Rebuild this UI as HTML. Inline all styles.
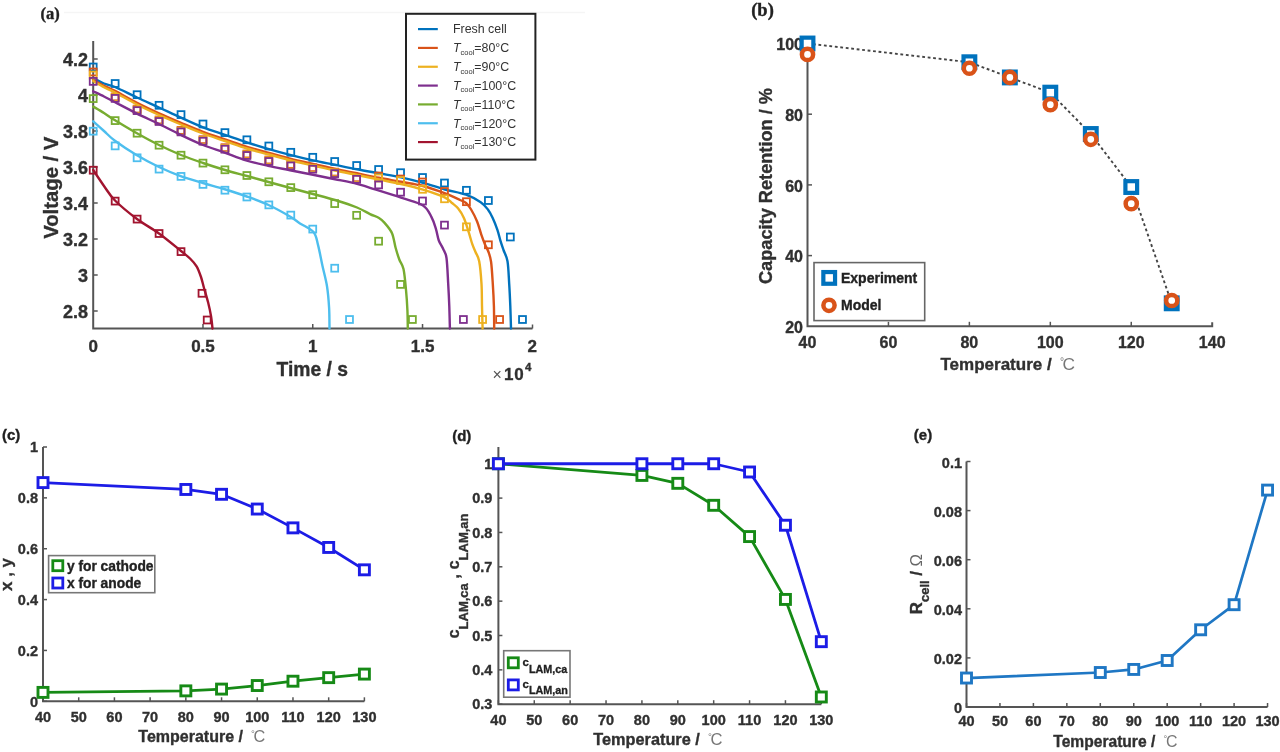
<!DOCTYPE html><html><head><meta charset="utf-8"><style>html,body{margin:0;padding:0;background:#fff;width:1280px;height:752px;overflow:hidden}svg{display:block;filter:blur(0.45px)}</style></head><body>
<svg width="1280" height="752" viewBox="0 0 1280 752">
<rect width="1280" height="752" fill="#fff"/>
<line x1="64" y1="12.5" x2="585" y2="12.5" stroke="#f5f5f5" stroke-width="1.5"/>
<g>
<path d="M93.2,41 L93.2,328.5 L532.5,328.5" fill="none" stroke="#555555" stroke-width="2"/>
<path d="M532.5,328.5 L532.5,324.5" stroke="#555555" stroke-width="1.5"/>
<line x1="93.2" y1="311" x2="97.7" y2="311" stroke="#555555" stroke-width="1.5"/>
<text x="88" y="318.3" font-size="18" text-anchor="end" font-weight="bold" fill="#303030" font-family='"Liberation Sans", sans-serif'  stroke="#303030" stroke-width="0.35">2.8</text>
<line x1="93.2" y1="275" x2="97.7" y2="275" stroke="#555555" stroke-width="1.5"/>
<text x="88" y="282.3" font-size="18" text-anchor="end" font-weight="bold" fill="#303030" font-family='"Liberation Sans", sans-serif'  stroke="#303030" stroke-width="0.35">3</text>
<line x1="93.2" y1="239" x2="97.7" y2="239" stroke="#555555" stroke-width="1.5"/>
<text x="88" y="246.3" font-size="18" text-anchor="end" font-weight="bold" fill="#303030" font-family='"Liberation Sans", sans-serif'  stroke="#303030" stroke-width="0.35">3.2</text>
<line x1="93.2" y1="203" x2="97.7" y2="203" stroke="#555555" stroke-width="1.5"/>
<text x="88" y="210.3" font-size="18" text-anchor="end" font-weight="bold" fill="#303030" font-family='"Liberation Sans", sans-serif'  stroke="#303030" stroke-width="0.35">3.4</text>
<line x1="93.2" y1="167" x2="97.7" y2="167" stroke="#555555" stroke-width="1.5"/>
<text x="88" y="174.3" font-size="18" text-anchor="end" font-weight="bold" fill="#303030" font-family='"Liberation Sans", sans-serif'  stroke="#303030" stroke-width="0.35">3.6</text>
<line x1="93.2" y1="131" x2="97.7" y2="131" stroke="#555555" stroke-width="1.5"/>
<text x="88" y="138.3" font-size="18" text-anchor="end" font-weight="bold" fill="#303030" font-family='"Liberation Sans", sans-serif'  stroke="#303030" stroke-width="0.35">3.8</text>
<line x1="93.2" y1="95" x2="97.7" y2="95" stroke="#555555" stroke-width="1.5"/>
<text x="88" y="102.3" font-size="18" text-anchor="end" font-weight="bold" fill="#303030" font-family='"Liberation Sans", sans-serif'  stroke="#303030" stroke-width="0.35">4</text>
<line x1="93.2" y1="59" x2="97.7" y2="59" stroke="#555555" stroke-width="1.5"/>
<text x="88" y="66.3" font-size="18" text-anchor="end" font-weight="bold" fill="#303030" font-family='"Liberation Sans", sans-serif'  stroke="#303030" stroke-width="0.35">4.2</text>
<line x1="202.98" y1="328.5" x2="202.98" y2="324" stroke="#555555" stroke-width="1.5"/>
<line x1="312.75" y1="328.5" x2="312.75" y2="324" stroke="#555555" stroke-width="1.5"/>
<line x1="422.53" y1="328.5" x2="422.53" y2="324" stroke="#555555" stroke-width="1.5"/>
<text x="93.2" y="351.5" font-size="17" text-anchor="middle" font-weight="bold" fill="#303030" font-family='"Liberation Sans", sans-serif'  stroke="#303030" stroke-width="0.35">0</text>
<text x="202.98" y="351.5" font-size="17" text-anchor="middle" font-weight="bold" fill="#303030" font-family='"Liberation Sans", sans-serif'  stroke="#303030" stroke-width="0.35">0.5</text>
<text x="312.75" y="351.5" font-size="17" text-anchor="middle" font-weight="bold" fill="#303030" font-family='"Liberation Sans", sans-serif'  stroke="#303030" stroke-width="0.35">1</text>
<text x="422.53" y="351.5" font-size="17" text-anchor="middle" font-weight="bold" fill="#303030" font-family='"Liberation Sans", sans-serif'  stroke="#303030" stroke-width="0.35">1.5</text>
<text x="532.3" y="351.5" font-size="17" text-anchor="middle" font-weight="bold" fill="#303030" font-family='"Liberation Sans", sans-serif'  stroke="#303030" stroke-width="0.35">2</text>
<text x="492.5" y="379.5" font-size="16" text-anchor="start" font-weight="normal" fill="#555" font-family='"Liberation Sans", sans-serif' >&#215;</text>
<text x="504" y="379.5" font-size="17" text-anchor="start" font-weight="bold" fill="#303030" font-family='"Liberation Sans", sans-serif' letter-spacing="0.8" stroke="#303030" stroke-width="0.35">10</text>
<text x="525" y="370.5" font-size="11.5" text-anchor="start" font-weight="bold" fill="#303030" font-family='"Liberation Sans", sans-serif'  stroke="#303030" stroke-width="0.35">4</text>
<text x="312.2" y="376" font-size="19.3" text-anchor="middle" font-weight="bold" fill="#303030" font-family='"Liberation Sans", sans-serif'  stroke="#303030" stroke-width="0.35">Time / s</text>
<text transform="translate(58,187.7) rotate(-90)" x="0" y="0" font-size="20.3" text-anchor="middle" font-weight="bold" fill="#303030" stroke="#303030" stroke-width="0.35" font-family='"Liberation Sans", sans-serif'>Voltage / V</text>
<text x="40.5" y="18.5" font-size="16.5" text-anchor="start" font-weight="bold" fill="#222" font-family='"Liberation Serif", serif'  stroke="#222" stroke-width="0.35">(a)</text>
<path d="M93.2,78 C95,78.92 100.37,82 104,83.5 C107.63,85 109.5,84.67 115,87 C120.5,89.33 129.67,94.08 137,97.5 C144.33,100.92 151.67,104.14 159,107.5 C166.33,110.86 173.67,114.36 181,117.66 C188.33,120.96 195.67,124.44 203,127.3 C210.33,130.16 217.67,132.3 225,134.8 C232.33,137.3 239.83,139.97 247,142.3 C254.17,144.63 260.83,146.72 268,148.8 C275.17,150.88 282.5,152.88 290,154.8 C297.5,156.72 305.5,158.63 313,160.3 C320.5,161.97 327.67,163.3 335,164.8 C342.33,166.3 349.67,167.88 357,169.3 C364.33,170.72 371.67,171.97 379,173.3 C386.33,174.63 393.67,175.72 401,177.3 C408.33,178.88 415.67,180.77 423,182.8 C430.33,184.83 437.83,187.51 445,189.5 C452.17,191.49 460.05,192.61 466,194.74 C471.95,196.87 477.05,199.84 480.7,202.3 C484.35,204.76 485.9,206.9 487.9,209.5 C489.9,212.1 491.12,214.52 492.7,217.9 C494.28,221.28 496.12,226.02 497.4,229.8 C498.68,233.58 499.38,237.23 500.4,240.6 C501.42,243.97 502.32,246.55 503.5,250 C504.68,253.45 506.55,255.65 507.5,261.3 C508.45,266.95 508.73,276.45 509.2,283.9 C509.67,291.35 510,298.57 510.3,306 C510.6,313.43 510.88,324.75 511,328.5" fill="none" stroke="#0072BD" stroke-width="2.4" stroke-linejoin="round" stroke-linecap="round"/>
<rect x="89.75" y="63.55" width="6.9" height="6.9" fill="none" stroke="#0072BD" stroke-width="1.8"/>
<rect x="111.7" y="80.05" width="6.9" height="6.9" fill="none" stroke="#0072BD" stroke-width="1.8"/>
<rect x="133.66" y="91.25" width="6.9" height="6.9" fill="none" stroke="#0072BD" stroke-width="1.8"/>
<rect x="155.62" y="101.85" width="6.9" height="6.9" fill="none" stroke="#0072BD" stroke-width="1.8"/>
<rect x="177.57" y="111.15" width="6.9" height="6.9" fill="none" stroke="#0072BD" stroke-width="1.8"/>
<rect x="199.53" y="120.55" width="6.9" height="6.9" fill="none" stroke="#0072BD" stroke-width="1.8"/>
<rect x="221.48" y="129.15" width="6.9" height="6.9" fill="none" stroke="#0072BD" stroke-width="1.8"/>
<rect x="243.44" y="136.35" width="6.9" height="6.9" fill="none" stroke="#0072BD" stroke-width="1.8"/>
<rect x="265.39" y="142.55" width="6.9" height="6.9" fill="none" stroke="#0072BD" stroke-width="1.8"/>
<rect x="287.34" y="148.85" width="6.9" height="6.9" fill="none" stroke="#0072BD" stroke-width="1.8"/>
<rect x="309.3" y="153.85" width="6.9" height="6.9" fill="none" stroke="#0072BD" stroke-width="1.8"/>
<rect x="331.25" y="158.05" width="6.9" height="6.9" fill="none" stroke="#0072BD" stroke-width="1.8"/>
<rect x="353.21" y="162.05" width="6.9" height="6.9" fill="none" stroke="#0072BD" stroke-width="1.8"/>
<rect x="375.16" y="166.05" width="6.9" height="6.9" fill="none" stroke="#0072BD" stroke-width="1.8"/>
<rect x="397.12" y="169.25" width="6.9" height="6.9" fill="none" stroke="#0072BD" stroke-width="1.8"/>
<rect x="419.07" y="174.05" width="6.9" height="6.9" fill="none" stroke="#0072BD" stroke-width="1.8"/>
<rect x="441.03" y="179.55" width="6.9" height="6.9" fill="none" stroke="#0072BD" stroke-width="1.8"/>
<rect x="462.98" y="186.85" width="6.9" height="6.9" fill="none" stroke="#0072BD" stroke-width="1.8"/>
<rect x="484.94" y="197.05" width="6.9" height="6.9" fill="none" stroke="#0072BD" stroke-width="1.8"/>
<rect x="506.89" y="233.55" width="6.9" height="6.9" fill="none" stroke="#0072BD" stroke-width="1.8"/>
<rect x="519.05" y="316.05" width="6.9" height="6.9" fill="none" stroke="#0072BD" stroke-width="1.8"/>
<path d="M93.2,80 C95,80.96 100.37,83.92 104,85.74 C107.63,87.56 109.5,88.06 115,90.9 C120.5,93.74 129.67,99.07 137,102.8 C144.33,106.53 151.67,109.97 159,113.3 C166.33,116.63 173.67,119.72 181,122.8 C188.33,125.88 195.67,129.05 203,131.8 C210.33,134.55 217.67,136.8 225,139.3 C232.33,141.8 239.67,144.55 247,146.8 C254.33,149.05 261.67,150.8 269,152.8 C276.33,154.8 283.67,156.97 291,158.8 C298.33,160.63 305.67,162.13 313,163.8 C320.33,165.47 327.67,167.22 335,168.8 C342.33,170.38 349.67,171.8 357,173.3 C364.33,174.8 371.67,176.38 379,177.8 C386.33,179.22 393.67,180.43 401,181.8 C408.33,183.17 415.73,184.12 423,186.02 C430.27,187.92 438.43,190.87 444.6,193.2 C450.77,195.53 456.43,198.37 460,200 C463.57,201.63 464.15,201.42 466,203 C467.85,204.58 469.25,206.42 471.1,209.5 C472.95,212.58 475.4,217.32 477.1,221.5 C478.8,225.68 480,230.82 481.3,234.6 C482.6,238.38 483.7,241.3 484.9,244.2 C486.1,247.1 487.47,249.03 488.5,252 C489.53,254.97 490.38,256.68 491.1,262 C491.82,267.32 492.33,276.57 492.8,283.9 C493.27,291.23 493.67,298.57 493.9,306 C494.13,313.43 494.15,324.75 494.2,328.5" fill="none" stroke="#D95319" stroke-width="2.4" stroke-linejoin="round" stroke-linecap="round"/>
<rect x="89.75" y="68.55" width="6.9" height="6.9" fill="none" stroke="#D95319" stroke-width="1.8"/>
<rect x="111.7" y="93.45" width="6.9" height="6.9" fill="none" stroke="#D95319" stroke-width="1.8"/>
<rect x="133.66" y="105.65" width="6.9" height="6.9" fill="none" stroke="#D95319" stroke-width="1.8"/>
<rect x="155.62" y="116.55" width="6.9" height="6.9" fill="none" stroke="#D95319" stroke-width="1.8"/>
<rect x="177.57" y="126.95" width="6.9" height="6.9" fill="none" stroke="#D95319" stroke-width="1.8"/>
<rect x="199.53" y="136.25" width="6.9" height="6.9" fill="none" stroke="#D95319" stroke-width="1.8"/>
<rect x="221.48" y="144.25" width="6.9" height="6.9" fill="none" stroke="#D95319" stroke-width="1.8"/>
<rect x="243.44" y="150.55" width="6.9" height="6.9" fill="none" stroke="#D95319" stroke-width="1.8"/>
<rect x="265.39" y="156.55" width="6.9" height="6.9" fill="none" stroke="#D95319" stroke-width="1.8"/>
<rect x="287.34" y="160.95" width="6.9" height="6.9" fill="none" stroke="#D95319" stroke-width="1.8"/>
<rect x="309.3" y="164.25" width="6.9" height="6.9" fill="none" stroke="#D95319" stroke-width="1.8"/>
<rect x="331.25" y="168.65" width="6.9" height="6.9" fill="none" stroke="#D95319" stroke-width="1.8"/>
<rect x="353.21" y="174.35" width="6.9" height="6.9" fill="none" stroke="#D95319" stroke-width="1.8"/>
<rect x="375.16" y="172.55" width="6.9" height="6.9" fill="none" stroke="#D95319" stroke-width="1.8"/>
<rect x="397.12" y="175.55" width="6.9" height="6.9" fill="none" stroke="#D95319" stroke-width="1.8"/>
<rect x="419.07" y="178.55" width="6.9" height="6.9" fill="none" stroke="#D95319" stroke-width="1.8"/>
<rect x="441.03" y="188.05" width="6.9" height="6.9" fill="none" stroke="#D95319" stroke-width="1.8"/>
<rect x="462.98" y="198.25" width="6.9" height="6.9" fill="none" stroke="#D95319" stroke-width="1.8"/>
<rect x="484.94" y="241.35" width="6.9" height="6.9" fill="none" stroke="#D95319" stroke-width="1.8"/>
<rect x="496.15" y="316.05" width="6.9" height="6.9" fill="none" stroke="#D95319" stroke-width="1.8"/>
<path d="M93.2,81 C95,82.04 100.37,85.35 104,87.27 C107.63,89.18 109.5,89.63 115,92.5 C120.5,95.37 129.67,100.75 137,104.5 C144.33,108.25 151.67,111.67 159,115 C166.33,118.33 173.67,121.42 181,124.5 C188.33,127.58 195.67,130.75 203,133.5 C210.33,136.25 217.67,138.5 225,141 C232.33,143.5 239.67,146.25 247,148.5 C254.33,150.75 261.67,152.5 269,154.5 C276.33,156.5 283.67,158.67 291,160.5 C298.33,162.33 305.67,163.83 313,165.5 C320.33,167.17 327.67,168.92 335,170.5 C342.33,172.08 349.67,173.5 357,175 C364.33,176.5 371.67,178 379,179.5 C386.33,181 393.67,182.31 401,184 C408.33,185.69 415.73,187.42 423,189.63 C430.27,191.85 439.77,195.07 444.6,197.3 C449.43,199.53 449.77,201.17 452,203 C454.23,204.83 456.02,205.82 458,208.3 C459.98,210.78 462.12,213.92 463.9,217.9 C465.68,221.88 467.3,227.82 468.7,232.2 C470.1,236.58 471.17,240.9 472.3,244.2 C473.43,247.5 474.35,249.15 475.5,252 C476.65,254.85 478.2,255.98 479.2,261.3 C480.2,266.62 481.03,276.45 481.5,283.9 C481.97,291.35 481.82,298.57 482,306 C482.18,313.43 482.5,324.75 482.6,328.5" fill="none" stroke="#EDB120" stroke-width="2.4" stroke-linejoin="round" stroke-linecap="round"/>
<rect x="89.75" y="71.55" width="6.9" height="6.9" fill="none" stroke="#EDB120" stroke-width="1.8"/>
<rect x="111.7" y="94.15" width="6.9" height="6.9" fill="none" stroke="#EDB120" stroke-width="1.8"/>
<rect x="133.66" y="106.35" width="6.9" height="6.9" fill="none" stroke="#EDB120" stroke-width="1.8"/>
<rect x="155.62" y="117.25" width="6.9" height="6.9" fill="none" stroke="#EDB120" stroke-width="1.8"/>
<rect x="177.57" y="127.65" width="6.9" height="6.9" fill="none" stroke="#EDB120" stroke-width="1.8"/>
<rect x="199.53" y="136.95" width="6.9" height="6.9" fill="none" stroke="#EDB120" stroke-width="1.8"/>
<rect x="221.48" y="144.95" width="6.9" height="6.9" fill="none" stroke="#EDB120" stroke-width="1.8"/>
<rect x="243.44" y="151.25" width="6.9" height="6.9" fill="none" stroke="#EDB120" stroke-width="1.8"/>
<rect x="265.39" y="157.25" width="6.9" height="6.9" fill="none" stroke="#EDB120" stroke-width="1.8"/>
<rect x="287.34" y="161.65" width="6.9" height="6.9" fill="none" stroke="#EDB120" stroke-width="1.8"/>
<rect x="309.3" y="164.95" width="6.9" height="6.9" fill="none" stroke="#EDB120" stroke-width="1.8"/>
<rect x="331.25" y="169.35" width="6.9" height="6.9" fill="none" stroke="#EDB120" stroke-width="1.8"/>
<rect x="353.21" y="175.05" width="6.9" height="6.9" fill="none" stroke="#EDB120" stroke-width="1.8"/>
<rect x="375.16" y="174.55" width="6.9" height="6.9" fill="none" stroke="#EDB120" stroke-width="1.8"/>
<rect x="397.12" y="177.05" width="6.9" height="6.9" fill="none" stroke="#EDB120" stroke-width="1.8"/>
<rect x="419.07" y="185.85" width="6.9" height="6.9" fill="none" stroke="#EDB120" stroke-width="1.8"/>
<rect x="441.03" y="195.35" width="6.9" height="6.9" fill="none" stroke="#EDB120" stroke-width="1.8"/>
<rect x="462.98" y="223.35" width="6.9" height="6.9" fill="none" stroke="#EDB120" stroke-width="1.8"/>
<rect x="479.15" y="316.05" width="6.9" height="6.9" fill="none" stroke="#EDB120" stroke-width="1.8"/>
<path d="M93.2,91.3 C95,92.17 100.43,94.72 104,96.5 C107.57,98.28 109.18,99.2 114.6,102 C120.02,104.8 129.1,109.63 136.5,113.3 C143.9,116.97 151.75,120.47 159,124 C166.25,127.53 172.67,131 180,134.5 C187.33,138 195.67,142.03 203,145 C210.33,147.97 216.83,149.75 224,152.3 C231.17,154.85 238.67,158.05 246,160.3 C253.33,162.55 260.67,164.15 268,165.8 C275.33,167.45 282.5,168.7 290,170.2 C297.5,171.7 305.5,173.3 313,174.8 C320.5,176.3 327.67,177.7 335,179.2 C342.33,180.7 351.17,182.37 357,183.8 C362.83,185.23 362.67,185.49 370,187.8 C377.33,190.11 392.17,194.71 401,197.64 C409.83,200.57 417.92,202.16 423,205.4 C428.08,208.64 429.35,213.2 431.5,217.1 C433.65,221 434.68,224.9 435.9,228.8 C437.12,232.7 437.58,237.13 438.8,240.5 C440.02,243.87 441.92,246.08 443.2,249 C444.48,251.92 445.67,252.18 446.5,258 C447.33,263.82 447.73,275.82 448.2,283.9 C448.67,291.98 449.02,299.07 449.3,306.5 C449.58,313.93 449.8,324.83 449.9,328.5" fill="none" stroke="#7E2F8E" stroke-width="2.4" stroke-linejoin="round" stroke-linecap="round"/>
<rect x="89.75" y="77.95" width="6.9" height="6.9" fill="none" stroke="#7E2F8E" stroke-width="1.8"/>
<rect x="111.7" y="94.95" width="6.9" height="6.9" fill="none" stroke="#7E2F8E" stroke-width="1.8"/>
<rect x="133.66" y="107.15" width="6.9" height="6.9" fill="none" stroke="#7E2F8E" stroke-width="1.8"/>
<rect x="155.62" y="118.05" width="6.9" height="6.9" fill="none" stroke="#7E2F8E" stroke-width="1.8"/>
<rect x="177.57" y="128.45" width="6.9" height="6.9" fill="none" stroke="#7E2F8E" stroke-width="1.8"/>
<rect x="199.53" y="137.75" width="6.9" height="6.9" fill="none" stroke="#7E2F8E" stroke-width="1.8"/>
<rect x="221.48" y="145.75" width="6.9" height="6.9" fill="none" stroke="#7E2F8E" stroke-width="1.8"/>
<rect x="243.44" y="152.05" width="6.9" height="6.9" fill="none" stroke="#7E2F8E" stroke-width="1.8"/>
<rect x="265.39" y="158.05" width="6.9" height="6.9" fill="none" stroke="#7E2F8E" stroke-width="1.8"/>
<rect x="287.34" y="162.45" width="6.9" height="6.9" fill="none" stroke="#7E2F8E" stroke-width="1.8"/>
<rect x="309.3" y="165.75" width="6.9" height="6.9" fill="none" stroke="#7E2F8E" stroke-width="1.8"/>
<rect x="331.25" y="170.15" width="6.9" height="6.9" fill="none" stroke="#7E2F8E" stroke-width="1.8"/>
<rect x="353.21" y="175.85" width="6.9" height="6.9" fill="none" stroke="#7E2F8E" stroke-width="1.8"/>
<rect x="375.16" y="181.45" width="6.9" height="6.9" fill="none" stroke="#7E2F8E" stroke-width="1.8"/>
<rect x="397.12" y="188.75" width="6.9" height="6.9" fill="none" stroke="#7E2F8E" stroke-width="1.8"/>
<rect x="419.07" y="197.55" width="6.9" height="6.9" fill="none" stroke="#7E2F8E" stroke-width="1.8"/>
<rect x="441.03" y="221.65" width="6.9" height="6.9" fill="none" stroke="#7E2F8E" stroke-width="1.8"/>
<rect x="459.95" y="316.05" width="6.9" height="6.9" fill="none" stroke="#7E2F8E" stroke-width="1.8"/>
<path d="M93.2,106.6 C95,107.67 100.43,110.77 104,113 C107.57,115.23 109.18,116.67 114.6,120 C120.02,123.33 129.1,128.83 136.5,133 C143.9,137.17 151.58,141.33 159,145 C166.42,148.67 173.67,152 181,155 C188.33,158 195.67,160.5 203,163 C210.33,165.5 217.67,167.83 225,170 C232.33,172.17 239.75,174 247,176 C254.25,178 261.25,180 268.5,182 C275.75,184 283.08,186 290.5,188 C297.92,190 305.58,192 313,194 C320.42,196 327.67,197.75 335,200 C342.33,202.25 351.17,205.15 357,207.5 C362.83,209.85 366.33,212.35 370,214.1 C373.67,215.85 376.57,216.53 379,218 C381.43,219.47 382.43,220.37 384.6,222.9 C386.77,225.43 390.17,229.05 392,233.2 C393.83,237.35 394.38,243.42 395.6,247.8 C396.82,252.18 397.98,255.97 399.3,259.5 C400.62,263.03 402.38,263.95 403.5,269 C404.62,274.05 405.35,282.97 406,289.8 C406.65,296.63 407.1,303.55 407.4,310 C407.7,316.45 407.73,325.42 407.8,328.5" fill="none" stroke="#77AC30" stroke-width="2.4" stroke-linejoin="round" stroke-linecap="round"/>
<rect x="89.75" y="95.15" width="6.9" height="6.9" fill="none" stroke="#77AC30" stroke-width="1.8"/>
<rect x="111.7" y="117.15" width="6.9" height="6.9" fill="none" stroke="#77AC30" stroke-width="1.8"/>
<rect x="133.66" y="129.75" width="6.9" height="6.9" fill="none" stroke="#77AC30" stroke-width="1.8"/>
<rect x="155.62" y="141.75" width="6.9" height="6.9" fill="none" stroke="#77AC30" stroke-width="1.8"/>
<rect x="177.57" y="151.75" width="6.9" height="6.9" fill="none" stroke="#77AC30" stroke-width="1.8"/>
<rect x="199.53" y="159.65" width="6.9" height="6.9" fill="none" stroke="#77AC30" stroke-width="1.8"/>
<rect x="221.48" y="166.35" width="6.9" height="6.9" fill="none" stroke="#77AC30" stroke-width="1.8"/>
<rect x="243.44" y="172.05" width="6.9" height="6.9" fill="none" stroke="#77AC30" stroke-width="1.8"/>
<rect x="265.39" y="178.35" width="6.9" height="6.9" fill="none" stroke="#77AC30" stroke-width="1.8"/>
<rect x="287.34" y="184.15" width="6.9" height="6.9" fill="none" stroke="#77AC30" stroke-width="1.8"/>
<rect x="309.3" y="191.25" width="6.9" height="6.9" fill="none" stroke="#77AC30" stroke-width="1.8"/>
<rect x="331.25" y="200.15" width="6.9" height="6.9" fill="none" stroke="#77AC30" stroke-width="1.8"/>
<rect x="353.21" y="211.85" width="6.9" height="6.9" fill="none" stroke="#77AC30" stroke-width="1.8"/>
<rect x="375.16" y="237.75" width="6.9" height="6.9" fill="none" stroke="#77AC30" stroke-width="1.8"/>
<rect x="397.12" y="280.95" width="6.9" height="6.9" fill="none" stroke="#77AC30" stroke-width="1.8"/>
<rect x="408.95" y="316.05" width="6.9" height="6.9" fill="none" stroke="#77AC30" stroke-width="1.8"/>
<path d="M93.2,121.3 C95,122.92 100.43,127.8 104,131 C107.57,134.2 109.18,136.5 114.6,140.5 C120.02,144.5 129.1,150.58 136.5,155 C143.9,159.42 151.75,163.53 159,167 C166.25,170.47 172.67,173.13 180,175.8 C187.33,178.47 195.67,180.8 203,183 C210.33,185.2 216.7,186.75 224,189 C231.3,191.25 239.38,193.83 246.8,196.5 C254.22,199.17 261.3,201.67 268.5,205 C275.7,208.33 284.75,213.43 290,216.5 C295.25,219.57 296.08,220.82 300,223.4 C303.92,225.98 310.5,228.42 313.5,232 C316.5,235.58 316.5,239.23 318,244.9 C319.5,250.57 321,259.12 322.5,266 C324,272.88 325.9,279.23 327,286.2 C328.1,293.17 328.68,300.75 329.1,307.8 C329.52,314.85 329.43,325.05 329.5,328.5" fill="none" stroke="#4DBEEE" stroke-width="2.4" stroke-linejoin="round" stroke-linecap="round"/>
<rect x="89.75" y="127.75" width="6.9" height="6.9" fill="none" stroke="#4DBEEE" stroke-width="1.8"/>
<rect x="111.7" y="142.45" width="6.9" height="6.9" fill="none" stroke="#4DBEEE" stroke-width="1.8"/>
<rect x="133.66" y="154.35" width="6.9" height="6.9" fill="none" stroke="#4DBEEE" stroke-width="1.8"/>
<rect x="155.62" y="165.65" width="6.9" height="6.9" fill="none" stroke="#4DBEEE" stroke-width="1.8"/>
<rect x="177.57" y="172.95" width="6.9" height="6.9" fill="none" stroke="#4DBEEE" stroke-width="1.8"/>
<rect x="199.53" y="180.95" width="6.9" height="6.9" fill="none" stroke="#4DBEEE" stroke-width="1.8"/>
<rect x="221.48" y="186.75" width="6.9" height="6.9" fill="none" stroke="#4DBEEE" stroke-width="1.8"/>
<rect x="243.44" y="193.55" width="6.9" height="6.9" fill="none" stroke="#4DBEEE" stroke-width="1.8"/>
<rect x="265.39" y="201.45" width="6.9" height="6.9" fill="none" stroke="#4DBEEE" stroke-width="1.8"/>
<rect x="287.34" y="211.65" width="6.9" height="6.9" fill="none" stroke="#4DBEEE" stroke-width="1.8"/>
<rect x="309.3" y="225.65" width="6.9" height="6.9" fill="none" stroke="#4DBEEE" stroke-width="1.8"/>
<rect x="331.25" y="264.75" width="6.9" height="6.9" fill="none" stroke="#4DBEEE" stroke-width="1.8"/>
<rect x="346.05" y="316.05" width="6.9" height="6.9" fill="none" stroke="#4DBEEE" stroke-width="1.8"/>
<path d="M93.2,170 C95,172.67 100.37,180.92 104,186 C107.63,191.08 109.5,195 115,200.5 C120.5,206 129.67,213.5 137,219 C144.33,224.5 151.67,228.17 159,233.5 C166.33,238.83 175.83,246.83 181,251 C186.17,255.17 187.4,255.95 190,258.5 C192.6,261.05 194.77,263.22 196.6,266.3 C198.43,269.38 199.77,273.38 201,277 C202.23,280.62 202.8,283.7 204,288 C205.2,292.3 207.03,298.13 208.2,302.8 C209.37,307.47 210.28,311.72 211,316 C211.72,320.28 212.25,326.42 212.5,328.5" fill="none" stroke="#A2142F" stroke-width="2.4" stroke-linejoin="round" stroke-linecap="round"/>
<rect x="89.75" y="166.75" width="6.9" height="6.9" fill="none" stroke="#A2142F" stroke-width="1.8"/>
<rect x="111.7" y="197.65" width="6.9" height="6.9" fill="none" stroke="#A2142F" stroke-width="1.8"/>
<rect x="133.66" y="215.65" width="6.9" height="6.9" fill="none" stroke="#A2142F" stroke-width="1.8"/>
<rect x="155.62" y="230.05" width="6.9" height="6.9" fill="none" stroke="#A2142F" stroke-width="1.8"/>
<rect x="177.57" y="248.15" width="6.9" height="6.9" fill="none" stroke="#A2142F" stroke-width="1.8"/>
<rect x="198.55" y="289.85" width="6.9" height="6.9" fill="none" stroke="#A2142F" stroke-width="1.8"/>
<rect x="203.75" y="316.55" width="6.9" height="6.9" fill="none" stroke="#A2142F" stroke-width="1.8"/>
<rect x="406" y="13.8" width="129.4" height="145.8" fill="#fff" stroke="#222" stroke-width="2"/>
<line x1="418" y1="29.1" x2="437.8" y2="29.1" stroke="#0072BD" stroke-width="2.2"/>
<text x="453" y="33.4" font-size="12.4" text-anchor="start" font-weight="normal" fill="#333" font-family='"Liberation Sans", sans-serif' >Fresh cell</text>
<line x1="418" y1="47.93" x2="437.8" y2="47.93" stroke="#D95319" stroke-width="2.2"/>
<text x="453" y="52.23" font-size="12.4" font-family='"Liberation Sans", sans-serif' fill="#333"><tspan font-style="italic">T</tspan><tspan font-size="7.5" dy="2.5">cool</tspan><tspan dy="-2.5">=80&#176;C</tspan></text>
<line x1="418" y1="66.76" x2="437.8" y2="66.76" stroke="#EDB120" stroke-width="2.2"/>
<text x="453" y="71.06" font-size="12.4" font-family='"Liberation Sans", sans-serif' fill="#333"><tspan font-style="italic">T</tspan><tspan font-size="7.5" dy="2.5">cool</tspan><tspan dy="-2.5">=90&#176;C</tspan></text>
<line x1="418" y1="85.59" x2="437.8" y2="85.59" stroke="#7E2F8E" stroke-width="2.2"/>
<text x="453" y="89.89" font-size="12.4" font-family='"Liberation Sans", sans-serif' fill="#333"><tspan font-style="italic">T</tspan><tspan font-size="7.5" dy="2.5">cool</tspan><tspan dy="-2.5">=100&#176;C</tspan></text>
<line x1="418" y1="104.42" x2="437.8" y2="104.42" stroke="#77AC30" stroke-width="2.2"/>
<text x="453" y="108.72" font-size="12.4" font-family='"Liberation Sans", sans-serif' fill="#333"><tspan font-style="italic">T</tspan><tspan font-size="7.5" dy="2.5">cool</tspan><tspan dy="-2.5">=110&#176;C</tspan></text>
<line x1="418" y1="123.25" x2="437.8" y2="123.25" stroke="#4DBEEE" stroke-width="2.2"/>
<text x="453" y="127.55" font-size="12.4" font-family='"Liberation Sans", sans-serif' fill="#333"><tspan font-style="italic">T</tspan><tspan font-size="7.5" dy="2.5">cool</tspan><tspan dy="-2.5">=120&#176;C</tspan></text>
<line x1="418" y1="142.08" x2="437.8" y2="142.08" stroke="#A2142F" stroke-width="2.2"/>
<text x="453" y="146.38" font-size="12.4" font-family='"Liberation Sans", sans-serif' fill="#333"><tspan font-style="italic">T</tspan><tspan font-size="7.5" dy="2.5">cool</tspan><tspan dy="-2.5">=130&#176;C</tspan></text>
</g>
<path d="M807.5,43.5 L807.5,326.3 L1212.2,326.3 L1212.2,322.3" fill="none" stroke="#555555" stroke-width="2"/>
<line x1="807.5" y1="255.6" x2="812" y2="255.6" stroke="#555555" stroke-width="1.5"/>
<line x1="807.5" y1="184.9" x2="812" y2="184.9" stroke="#555555" stroke-width="1.5"/>
<line x1="807.5" y1="114.2" x2="812" y2="114.2" stroke="#555555" stroke-width="1.5"/>
<line x1="888.44" y1="326.3" x2="888.44" y2="321.8" stroke="#555555" stroke-width="1.5"/>
<line x1="969.38" y1="326.3" x2="969.38" y2="321.8" stroke="#555555" stroke-width="1.5"/>
<line x1="1050.32" y1="326.3" x2="1050.32" y2="321.8" stroke="#555555" stroke-width="1.5"/>
<line x1="1131.26" y1="326.3" x2="1131.26" y2="321.8" stroke="#555555" stroke-width="1.5"/>
<text x="803" y="333.1" font-size="16" text-anchor="end" font-weight="bold" fill="#303030" font-family='"Liberation Sans", sans-serif'  stroke="#303030" stroke-width="0.35">20</text>
<text x="803" y="262.4" font-size="16" text-anchor="end" font-weight="bold" fill="#303030" font-family='"Liberation Sans", sans-serif'  stroke="#303030" stroke-width="0.35">40</text>
<text x="803" y="191.7" font-size="16" text-anchor="end" font-weight="bold" fill="#303030" font-family='"Liberation Sans", sans-serif'  stroke="#303030" stroke-width="0.35">60</text>
<text x="803" y="121" font-size="16" text-anchor="end" font-weight="bold" fill="#303030" font-family='"Liberation Sans", sans-serif'  stroke="#303030" stroke-width="0.35">80</text>
<text x="803" y="50.3" font-size="16" text-anchor="end" font-weight="bold" fill="#303030" font-family='"Liberation Sans", sans-serif'  stroke="#303030" stroke-width="0.35">100</text>
<text x="807.5" y="347.8" font-size="16" text-anchor="middle" font-weight="bold" fill="#303030" font-family='"Liberation Sans", sans-serif'  stroke="#303030" stroke-width="0.35">40</text>
<text x="888.44" y="347.8" font-size="16" text-anchor="middle" font-weight="bold" fill="#303030" font-family='"Liberation Sans", sans-serif'  stroke="#303030" stroke-width="0.35">60</text>
<text x="969.38" y="347.8" font-size="16" text-anchor="middle" font-weight="bold" fill="#303030" font-family='"Liberation Sans", sans-serif'  stroke="#303030" stroke-width="0.35">80</text>
<text x="1050.32" y="347.8" font-size="16" text-anchor="middle" font-weight="bold" fill="#303030" font-family='"Liberation Sans", sans-serif'  stroke="#303030" stroke-width="0.35">100</text>
<text x="1131.26" y="347.8" font-size="16" text-anchor="middle" font-weight="bold" fill="#303030" font-family='"Liberation Sans", sans-serif'  stroke="#303030" stroke-width="0.35">120</text>
<text x="1212.2" y="347.8" font-size="16" text-anchor="middle" font-weight="bold" fill="#303030" font-family='"Liberation Sans", sans-serif'  stroke="#303030" stroke-width="0.35">140</text>
<text transform="translate(771.5,186) rotate(-90)" x="0" y="0" font-size="18.2" text-anchor="middle" font-weight="bold" fill="#303030" stroke="#303030" stroke-width="0.35" font-family='"Liberation Sans", sans-serif'>Capacity Retention / %</text>
<text x="751.2" y="15.5" font-size="18.5" text-anchor="start" font-weight="bold" fill="#222" font-family='"Liberation Serif", serif'  stroke="#222" stroke-width="0.35">(b)</text>
<path d="M807.5,43.5 L969.38,62.24 L1009.85,77.44 L1050.32,92.64 L1090.79,134 L1131.26,187.02 L1171.73,303.32" fill="none" stroke="#444" stroke-width="1.9" stroke-dasharray="2.8,2.7"/>
<rect x="801.65" y="37.65" width="11.7" height="11.7" fill="#fff" stroke="#0072BD" stroke-width="4.2"/>
<rect x="963.53" y="56.39" width="11.7" height="11.7" fill="#fff" stroke="#0072BD" stroke-width="4.2"/>
<rect x="1004" y="71.59" width="11.7" height="11.7" fill="#fff" stroke="#0072BD" stroke-width="4.2"/>
<rect x="1044.47" y="86.79" width="11.7" height="11.7" fill="#fff" stroke="#0072BD" stroke-width="4.2"/>
<rect x="1084.94" y="128.15" width="11.7" height="11.7" fill="#fff" stroke="#0072BD" stroke-width="4.2"/>
<rect x="1125.41" y="181.17" width="11.7" height="11.7" fill="#fff" stroke="#0072BD" stroke-width="4.2"/>
<rect x="1165.88" y="297.47" width="11.7" height="11.7" fill="#fff" stroke="#0072BD" stroke-width="4.2"/>
<circle cx="807.5" cy="54.46" r="5.6" fill="#fff" stroke="#D95319" stroke-width="4.5"/>
<circle cx="969.38" cy="68.25" r="5.6" fill="#fff" stroke="#D95319" stroke-width="4.5"/>
<circle cx="1009.85" cy="77.44" r="5.6" fill="#fff" stroke="#D95319" stroke-width="4.5"/>
<circle cx="1050.32" cy="104.66" r="5.6" fill="#fff" stroke="#D95319" stroke-width="4.5"/>
<circle cx="1090.79" cy="139.3" r="5.6" fill="#fff" stroke="#D95319" stroke-width="4.5"/>
<circle cx="1131.26" cy="203.64" r="5.6" fill="#fff" stroke="#D95319" stroke-width="4.5"/>
<circle cx="1171.73" cy="300.49" r="5.6" fill="#fff" stroke="#D95319" stroke-width="4.5"/>
<rect x="814" y="262.6" width="110.7" height="58" fill="#fff" stroke="#666" stroke-width="1.6"/>
<rect x="823.35" y="272.05" width="11.7" height="11.7" fill="#fff" stroke="#0072BD" stroke-width="4.2"/>
<circle cx="829" cy="305.3" r="5.6" fill="none" stroke="#D95319" stroke-width="4.5"/>
<text x="841" y="283.4" font-size="14" text-anchor="start" font-weight="bold" fill="#222" font-family='"Liberation Sans", sans-serif'  stroke="#222" stroke-width="0.35">Experiment</text>
<text x="841" y="310.4" font-size="14" text-anchor="start" font-weight="bold" fill="#222" font-family='"Liberation Sans", sans-serif'  stroke="#222" stroke-width="0.35">Model</text>
<path d="M43,447 L43,701.3 L364.39,701.3" fill="none" stroke="#555555" stroke-width="2"/>
<line x1="43" y1="701.3" x2="47" y2="701.3" stroke="#555555" stroke-width="1.5"/>
<text x="38" y="706.5" font-size="14.5" text-anchor="end" font-weight="bold" fill="#303030" font-family='"Liberation Sans", sans-serif'  stroke="#303030" stroke-width="0.35">0</text>
<line x1="43" y1="650.44" x2="47" y2="650.44" stroke="#555555" stroke-width="1.5"/>
<text x="38" y="655.64" font-size="14.5" text-anchor="end" font-weight="bold" fill="#303030" font-family='"Liberation Sans", sans-serif'  stroke="#303030" stroke-width="0.35">0.2</text>
<line x1="43" y1="599.58" x2="47" y2="599.58" stroke="#555555" stroke-width="1.5"/>
<text x="38" y="604.78" font-size="14.5" text-anchor="end" font-weight="bold" fill="#303030" font-family='"Liberation Sans", sans-serif'  stroke="#303030" stroke-width="0.35">0.4</text>
<line x1="43" y1="548.72" x2="47" y2="548.72" stroke="#555555" stroke-width="1.5"/>
<text x="38" y="553.92" font-size="14.5" text-anchor="end" font-weight="bold" fill="#303030" font-family='"Liberation Sans", sans-serif'  stroke="#303030" stroke-width="0.35">0.6</text>
<line x1="43" y1="497.86" x2="47" y2="497.86" stroke="#555555" stroke-width="1.5"/>
<text x="38" y="503.06" font-size="14.5" text-anchor="end" font-weight="bold" fill="#303030" font-family='"Liberation Sans", sans-serif'  stroke="#303030" stroke-width="0.35">0.8</text>
<line x1="43" y1="447" x2="47" y2="447" stroke="#555555" stroke-width="1.5"/>
<text x="38" y="452.2" font-size="14.5" text-anchor="end" font-weight="bold" fill="#303030" font-family='"Liberation Sans", sans-serif'  stroke="#303030" stroke-width="0.35">1</text>
<line x1="43" y1="701.3" x2="43" y2="697.3" stroke="#555555" stroke-width="1.5"/>
<text x="43" y="721.6" font-size="14.5" text-anchor="middle" font-weight="bold" fill="#303030" font-family='"Liberation Sans", sans-serif'  stroke="#303030" stroke-width="0.35">40</text>
<line x1="78.71" y1="701.3" x2="78.71" y2="697.3" stroke="#555555" stroke-width="1.5"/>
<text x="78.71" y="721.6" font-size="14.5" text-anchor="middle" font-weight="bold" fill="#303030" font-family='"Liberation Sans", sans-serif'  stroke="#303030" stroke-width="0.35">50</text>
<line x1="114.42" y1="701.3" x2="114.42" y2="697.3" stroke="#555555" stroke-width="1.5"/>
<text x="114.42" y="721.6" font-size="14.5" text-anchor="middle" font-weight="bold" fill="#303030" font-family='"Liberation Sans", sans-serif'  stroke="#303030" stroke-width="0.35">60</text>
<line x1="150.13" y1="701.3" x2="150.13" y2="697.3" stroke="#555555" stroke-width="1.5"/>
<text x="150.13" y="721.6" font-size="14.5" text-anchor="middle" font-weight="bold" fill="#303030" font-family='"Liberation Sans", sans-serif'  stroke="#303030" stroke-width="0.35">70</text>
<line x1="185.84" y1="701.3" x2="185.84" y2="697.3" stroke="#555555" stroke-width="1.5"/>
<text x="185.84" y="721.6" font-size="14.5" text-anchor="middle" font-weight="bold" fill="#303030" font-family='"Liberation Sans", sans-serif'  stroke="#303030" stroke-width="0.35">80</text>
<line x1="221.55" y1="701.3" x2="221.55" y2="697.3" stroke="#555555" stroke-width="1.5"/>
<text x="221.55" y="721.6" font-size="14.5" text-anchor="middle" font-weight="bold" fill="#303030" font-family='"Liberation Sans", sans-serif'  stroke="#303030" stroke-width="0.35">90</text>
<line x1="257.26" y1="701.3" x2="257.26" y2="697.3" stroke="#555555" stroke-width="1.5"/>
<text x="257.26" y="721.6" font-size="14.5" text-anchor="middle" font-weight="bold" fill="#303030" font-family='"Liberation Sans", sans-serif'  stroke="#303030" stroke-width="0.35">100</text>
<line x1="292.97" y1="701.3" x2="292.97" y2="697.3" stroke="#555555" stroke-width="1.5"/>
<text x="292.97" y="721.6" font-size="14.5" text-anchor="middle" font-weight="bold" fill="#303030" font-family='"Liberation Sans", sans-serif'  stroke="#303030" stroke-width="0.35">110</text>
<line x1="328.68" y1="701.3" x2="328.68" y2="697.3" stroke="#555555" stroke-width="1.5"/>
<text x="328.68" y="721.6" font-size="14.5" text-anchor="middle" font-weight="bold" fill="#303030" font-family='"Liberation Sans", sans-serif'  stroke="#303030" stroke-width="0.35">120</text>
<line x1="364.39" y1="701.3" x2="364.39" y2="697.3" stroke="#555555" stroke-width="1.5"/>
<text x="364.39" y="721.6" font-size="14.5" text-anchor="middle" font-weight="bold" fill="#303030" font-family='"Liberation Sans", sans-serif'  stroke="#303030" stroke-width="0.35">130</text>
<path d="M43,482.6 L185.84,489.47 L221.55,494.3 L257.26,509.05 L292.97,527.87 L328.68,547.45 L364.39,569.83" fill="none" stroke="#1c1ce6" stroke-width="2.8" stroke-linejoin="round"/>
<rect x="38" y="477.6" width="10" height="10" fill="#fff" stroke="#1c1ce6" stroke-width="2.9"/>
<rect x="180.84" y="484.47" width="10" height="10" fill="#fff" stroke="#1c1ce6" stroke-width="2.9"/>
<rect x="216.55" y="489.3" width="10" height="10" fill="#fff" stroke="#1c1ce6" stroke-width="2.9"/>
<rect x="252.26" y="504.05" width="10" height="10" fill="#fff" stroke="#1c1ce6" stroke-width="2.9"/>
<rect x="287.97" y="522.87" width="10" height="10" fill="#fff" stroke="#1c1ce6" stroke-width="2.9"/>
<rect x="323.68" y="542.45" width="10" height="10" fill="#fff" stroke="#1c1ce6" stroke-width="2.9"/>
<rect x="359.39" y="564.83" width="10" height="10" fill="#fff" stroke="#1c1ce6" stroke-width="2.9"/>
<path d="M43,692.4 L185.84,690.87 L221.55,689.09 L257.26,685.53 L292.97,681.21 L328.68,677.65 L364.39,674.09" fill="none" stroke="#168a16" stroke-width="2.8" stroke-linejoin="round"/>
<rect x="38" y="687.4" width="10" height="10" fill="#fff" stroke="#168a16" stroke-width="2.9"/>
<rect x="180.84" y="685.87" width="10" height="10" fill="#fff" stroke="#168a16" stroke-width="2.9"/>
<rect x="216.55" y="684.09" width="10" height="10" fill="#fff" stroke="#168a16" stroke-width="2.9"/>
<rect x="252.26" y="680.53" width="10" height="10" fill="#fff" stroke="#168a16" stroke-width="2.9"/>
<rect x="287.97" y="676.21" width="10" height="10" fill="#fff" stroke="#168a16" stroke-width="2.9"/>
<rect x="323.68" y="672.65" width="10" height="10" fill="#fff" stroke="#168a16" stroke-width="2.9"/>
<rect x="359.39" y="669.09" width="10" height="10" fill="#fff" stroke="#168a16" stroke-width="2.9"/>
<text x="2" y="440" font-size="15" text-anchor="start" font-weight="bold" fill="#222" font-family='"Liberation Sans", sans-serif'  stroke="#222" stroke-width="0.35">(c)</text>
<text transform="translate(12,574.5) rotate(-90)" x="0" y="0" font-size="17" text-anchor="middle" font-weight="bold" fill="#303030" stroke="#303030" stroke-width="0.35" font-family='"Liberation Sans", sans-serif'>x , y</text>
<rect x="48.6" y="555.6" width="106.2" height="37.1" fill="#fff" stroke="#777" stroke-width="1.6"/>
<rect x="52.8" y="560.7" width="10" height="10" fill="#fff" stroke="#168a16" stroke-width="2.8"/>
<rect x="52.8" y="578" width="10" height="10" fill="#fff" stroke="#1c1ce6" stroke-width="2.8"/>
<text x="66.9" y="571" font-size="13.8" text-anchor="start" font-weight="bold" fill="#222" font-family='"Liberation Sans", sans-serif'  stroke="#222" stroke-width="0.35">y for cathode</text>
<text x="66.9" y="588.3" font-size="13.8" text-anchor="start" font-weight="bold" fill="#222" font-family='"Liberation Sans", sans-serif'  stroke="#222" stroke-width="0.35">x for anode</text>
<path d="M498.4,447 L498.4,704.2 L821.32,704.2" fill="none" stroke="#555555" stroke-width="2"/>
<line x1="498.4" y1="704.2" x2="502.4" y2="704.2" stroke="#555555" stroke-width="1.5"/>
<text x="492.4" y="709.4" font-size="14.5" text-anchor="end" font-weight="bold" fill="#303030" font-family='"Liberation Sans", sans-serif'  stroke="#303030" stroke-width="0.35">0.3</text>
<line x1="498.4" y1="669.85" x2="502.4" y2="669.85" stroke="#555555" stroke-width="1.5"/>
<text x="492.4" y="675.05" font-size="14.5" text-anchor="end" font-weight="bold" fill="#303030" font-family='"Liberation Sans", sans-serif'  stroke="#303030" stroke-width="0.35">0.4</text>
<line x1="498.4" y1="635.5" x2="502.4" y2="635.5" stroke="#555555" stroke-width="1.5"/>
<text x="492.4" y="640.7" font-size="14.5" text-anchor="end" font-weight="bold" fill="#303030" font-family='"Liberation Sans", sans-serif'  stroke="#303030" stroke-width="0.35">0.5</text>
<line x1="498.4" y1="601.15" x2="502.4" y2="601.15" stroke="#555555" stroke-width="1.5"/>
<text x="492.4" y="606.35" font-size="14.5" text-anchor="end" font-weight="bold" fill="#303030" font-family='"Liberation Sans", sans-serif'  stroke="#303030" stroke-width="0.35">0.6</text>
<line x1="498.4" y1="566.8" x2="502.4" y2="566.8" stroke="#555555" stroke-width="1.5"/>
<text x="492.4" y="572" font-size="14.5" text-anchor="end" font-weight="bold" fill="#303030" font-family='"Liberation Sans", sans-serif'  stroke="#303030" stroke-width="0.35">0.7</text>
<line x1="498.4" y1="532.45" x2="502.4" y2="532.45" stroke="#555555" stroke-width="1.5"/>
<text x="492.4" y="537.65" font-size="14.5" text-anchor="end" font-weight="bold" fill="#303030" font-family='"Liberation Sans", sans-serif'  stroke="#303030" stroke-width="0.35">0.8</text>
<line x1="498.4" y1="498.1" x2="502.4" y2="498.1" stroke="#555555" stroke-width="1.5"/>
<text x="492.4" y="503.3" font-size="14.5" text-anchor="end" font-weight="bold" fill="#303030" font-family='"Liberation Sans", sans-serif'  stroke="#303030" stroke-width="0.35">0.9</text>
<line x1="498.4" y1="463.75" x2="502.4" y2="463.75" stroke="#555555" stroke-width="1.5"/>
<text x="492.4" y="468.95" font-size="14.5" text-anchor="end" font-weight="bold" fill="#303030" font-family='"Liberation Sans", sans-serif'  stroke="#303030" stroke-width="0.35">1</text>
<line x1="498.4" y1="704.2" x2="498.4" y2="700.2" stroke="#555555" stroke-width="1.5"/>
<text x="498.4" y="725" font-size="14.5" text-anchor="middle" font-weight="bold" fill="#303030" font-family='"Liberation Sans", sans-serif'  stroke="#303030" stroke-width="0.35">40</text>
<line x1="534.28" y1="704.2" x2="534.28" y2="700.2" stroke="#555555" stroke-width="1.5"/>
<text x="534.28" y="725" font-size="14.5" text-anchor="middle" font-weight="bold" fill="#303030" font-family='"Liberation Sans", sans-serif'  stroke="#303030" stroke-width="0.35">50</text>
<line x1="570.16" y1="704.2" x2="570.16" y2="700.2" stroke="#555555" stroke-width="1.5"/>
<text x="570.16" y="725" font-size="14.5" text-anchor="middle" font-weight="bold" fill="#303030" font-family='"Liberation Sans", sans-serif'  stroke="#303030" stroke-width="0.35">60</text>
<line x1="606.04" y1="704.2" x2="606.04" y2="700.2" stroke="#555555" stroke-width="1.5"/>
<text x="606.04" y="725" font-size="14.5" text-anchor="middle" font-weight="bold" fill="#303030" font-family='"Liberation Sans", sans-serif'  stroke="#303030" stroke-width="0.35">70</text>
<line x1="641.92" y1="704.2" x2="641.92" y2="700.2" stroke="#555555" stroke-width="1.5"/>
<text x="641.92" y="725" font-size="14.5" text-anchor="middle" font-weight="bold" fill="#303030" font-family='"Liberation Sans", sans-serif'  stroke="#303030" stroke-width="0.35">80</text>
<line x1="677.8" y1="704.2" x2="677.8" y2="700.2" stroke="#555555" stroke-width="1.5"/>
<text x="677.8" y="725" font-size="14.5" text-anchor="middle" font-weight="bold" fill="#303030" font-family='"Liberation Sans", sans-serif'  stroke="#303030" stroke-width="0.35">90</text>
<line x1="713.68" y1="704.2" x2="713.68" y2="700.2" stroke="#555555" stroke-width="1.5"/>
<text x="713.68" y="725" font-size="14.5" text-anchor="middle" font-weight="bold" fill="#303030" font-family='"Liberation Sans", sans-serif'  stroke="#303030" stroke-width="0.35">100</text>
<line x1="749.56" y1="704.2" x2="749.56" y2="700.2" stroke="#555555" stroke-width="1.5"/>
<text x="749.56" y="725" font-size="14.5" text-anchor="middle" font-weight="bold" fill="#303030" font-family='"Liberation Sans", sans-serif'  stroke="#303030" stroke-width="0.35">110</text>
<line x1="785.44" y1="704.2" x2="785.44" y2="700.2" stroke="#555555" stroke-width="1.5"/>
<text x="785.44" y="725" font-size="14.5" text-anchor="middle" font-weight="bold" fill="#303030" font-family='"Liberation Sans", sans-serif'  stroke="#303030" stroke-width="0.35">120</text>
<line x1="821.32" y1="704.2" x2="821.32" y2="700.2" stroke="#555555" stroke-width="1.5"/>
<text x="821.32" y="725" font-size="14.5" text-anchor="middle" font-weight="bold" fill="#303030" font-family='"Liberation Sans", sans-serif'  stroke="#303030" stroke-width="0.35">130</text>
<path d="M498.4,463.75 L641.92,475.43 L677.8,483.33 L713.68,505.31 L749.56,536.57 L785.44,599.43 L821.32,696.99" fill="none" stroke="#168a16" stroke-width="2.8" stroke-linejoin="round"/>
<rect x="493.4" y="458.75" width="10" height="10" fill="#fff" stroke="#168a16" stroke-width="2.9"/>
<rect x="636.92" y="470.43" width="10" height="10" fill="#fff" stroke="#168a16" stroke-width="2.9"/>
<rect x="672.8" y="478.33" width="10" height="10" fill="#fff" stroke="#168a16" stroke-width="2.9"/>
<rect x="708.68" y="500.31" width="10" height="10" fill="#fff" stroke="#168a16" stroke-width="2.9"/>
<rect x="744.56" y="531.57" width="10" height="10" fill="#fff" stroke="#168a16" stroke-width="2.9"/>
<rect x="780.44" y="594.43" width="10" height="10" fill="#fff" stroke="#168a16" stroke-width="2.9"/>
<rect x="816.32" y="691.99" width="10" height="10" fill="#fff" stroke="#168a16" stroke-width="2.9"/>
<path d="M498.4,463.75 L641.92,463.75 L677.8,463.75 L713.68,463.75 L749.56,471.99 L785.44,525.24 L821.32,641.68" fill="none" stroke="#1c1ce6" stroke-width="2.8" stroke-linejoin="round"/>
<rect x="493.4" y="458.75" width="10" height="10" fill="#fff" stroke="#1c1ce6" stroke-width="2.9"/>
<rect x="636.92" y="458.75" width="10" height="10" fill="#fff" stroke="#1c1ce6" stroke-width="2.9"/>
<rect x="672.8" y="458.75" width="10" height="10" fill="#fff" stroke="#1c1ce6" stroke-width="2.9"/>
<rect x="708.68" y="458.75" width="10" height="10" fill="#fff" stroke="#1c1ce6" stroke-width="2.9"/>
<rect x="744.56" y="466.99" width="10" height="10" fill="#fff" stroke="#1c1ce6" stroke-width="2.9"/>
<rect x="780.44" y="520.24" width="10" height="10" fill="#fff" stroke="#1c1ce6" stroke-width="2.9"/>
<rect x="816.32" y="636.68" width="10" height="10" fill="#fff" stroke="#1c1ce6" stroke-width="2.9"/>
<text x="452.2" y="440.5" font-size="15" text-anchor="start" font-weight="bold" fill="#222" font-family='"Liberation Sans", sans-serif'  stroke="#222" stroke-width="0.35">(d)</text>
<rect x="503.7" y="650.7" width="66.3" height="46.5" fill="#fff" stroke="#777" stroke-width="1.6"/>
<rect x="508.3" y="657.8" width="10" height="10" fill="#fff" stroke="#168a16" stroke-width="2.8"/>
<rect x="508.3" y="679.9" width="10" height="10" fill="#fff" stroke="#1c1ce6" stroke-width="2.8"/>
<text x="522.5" y="665.5" font-size="11.5" font-weight="bold" fill="#222" stroke="#222" stroke-width="0.3" font-family='"Liberation Sans", sans-serif'>c<tspan font-size="10.8" dy="7">LAM,ca</tspan></text>
<text x="522.5" y="687.8" font-size="11.5" font-weight="bold" fill="#222" stroke="#222" stroke-width="0.3" font-family='"Liberation Sans", sans-serif'>c<tspan font-size="10.8" dy="6.5">LAM,an</tspan></text>
<text transform="translate(459,576) rotate(-90)" x="0" y="0" font-size="16.4" text-anchor="middle" font-weight="bold" fill="#303030" stroke="#303030" stroke-width="0.35" font-family='"Liberation Sans", sans-serif'>c<tspan font-size="13" dy="8.5">LAM,ca</tspan><tspan dy="-8.5"> , c</tspan><tspan font-size="13" dy="8.5">LAM,an</tspan></text>
<path d="M966.5,461.6 L966.5,707 L1267.55,707" fill="none" stroke="#555555" stroke-width="2"/>
<line x1="966.5" y1="707" x2="970.5" y2="707" stroke="#555555" stroke-width="1.5"/>
<text x="962" y="713" font-size="14.5" text-anchor="end" font-weight="bold" fill="#303030" font-family='"Liberation Sans", sans-serif'  stroke="#303030" stroke-width="0.35">0</text>
<line x1="966.5" y1="657.9" x2="970.5" y2="657.9" stroke="#555555" stroke-width="1.5"/>
<text x="962" y="663.9" font-size="14.5" text-anchor="end" font-weight="bold" fill="#303030" font-family='"Liberation Sans", sans-serif'  stroke="#303030" stroke-width="0.35">0.02</text>
<line x1="966.5" y1="608.8" x2="970.5" y2="608.8" stroke="#555555" stroke-width="1.5"/>
<text x="962" y="614.8" font-size="14.5" text-anchor="end" font-weight="bold" fill="#303030" font-family='"Liberation Sans", sans-serif'  stroke="#303030" stroke-width="0.35">0.04</text>
<line x1="966.5" y1="559.7" x2="970.5" y2="559.7" stroke="#555555" stroke-width="1.5"/>
<text x="962" y="565.7" font-size="14.5" text-anchor="end" font-weight="bold" fill="#303030" font-family='"Liberation Sans", sans-serif'  stroke="#303030" stroke-width="0.35">0.06</text>
<line x1="966.5" y1="510.6" x2="970.5" y2="510.6" stroke="#555555" stroke-width="1.5"/>
<text x="962" y="516.6" font-size="14.5" text-anchor="end" font-weight="bold" fill="#303030" font-family='"Liberation Sans", sans-serif'  stroke="#303030" stroke-width="0.35">0.08</text>
<line x1="966.5" y1="461.5" x2="970.5" y2="461.5" stroke="#555555" stroke-width="1.5"/>
<text x="962" y="467.5" font-size="14.5" text-anchor="end" font-weight="bold" fill="#303030" font-family='"Liberation Sans", sans-serif'  stroke="#303030" stroke-width="0.35">0.1</text>
<line x1="966.5" y1="707" x2="966.5" y2="703" stroke="#555555" stroke-width="1.5"/>
<text x="966.5" y="726.3" font-size="14.5" text-anchor="middle" font-weight="bold" fill="#303030" font-family='"Liberation Sans", sans-serif'  stroke="#303030" stroke-width="0.35">40</text>
<line x1="999.95" y1="707" x2="999.95" y2="703" stroke="#555555" stroke-width="1.5"/>
<text x="999.95" y="726.3" font-size="14.5" text-anchor="middle" font-weight="bold" fill="#303030" font-family='"Liberation Sans", sans-serif'  stroke="#303030" stroke-width="0.35">50</text>
<line x1="1033.4" y1="707" x2="1033.4" y2="703" stroke="#555555" stroke-width="1.5"/>
<text x="1033.4" y="726.3" font-size="14.5" text-anchor="middle" font-weight="bold" fill="#303030" font-family='"Liberation Sans", sans-serif'  stroke="#303030" stroke-width="0.35">60</text>
<line x1="1066.85" y1="707" x2="1066.85" y2="703" stroke="#555555" stroke-width="1.5"/>
<text x="1066.85" y="726.3" font-size="14.5" text-anchor="middle" font-weight="bold" fill="#303030" font-family='"Liberation Sans", sans-serif'  stroke="#303030" stroke-width="0.35">70</text>
<line x1="1100.3" y1="707" x2="1100.3" y2="703" stroke="#555555" stroke-width="1.5"/>
<text x="1100.3" y="726.3" font-size="14.5" text-anchor="middle" font-weight="bold" fill="#303030" font-family='"Liberation Sans", sans-serif'  stroke="#303030" stroke-width="0.35">80</text>
<line x1="1133.75" y1="707" x2="1133.75" y2="703" stroke="#555555" stroke-width="1.5"/>
<text x="1133.75" y="726.3" font-size="14.5" text-anchor="middle" font-weight="bold" fill="#303030" font-family='"Liberation Sans", sans-serif'  stroke="#303030" stroke-width="0.35">90</text>
<line x1="1167.2" y1="707" x2="1167.2" y2="703" stroke="#555555" stroke-width="1.5"/>
<text x="1167.2" y="726.3" font-size="14.5" text-anchor="middle" font-weight="bold" fill="#303030" font-family='"Liberation Sans", sans-serif'  stroke="#303030" stroke-width="0.35">100</text>
<line x1="1200.65" y1="707" x2="1200.65" y2="703" stroke="#555555" stroke-width="1.5"/>
<text x="1200.65" y="726.3" font-size="14.5" text-anchor="middle" font-weight="bold" fill="#303030" font-family='"Liberation Sans", sans-serif'  stroke="#303030" stroke-width="0.35">110</text>
<line x1="1234.1" y1="707" x2="1234.1" y2="703" stroke="#555555" stroke-width="1.5"/>
<text x="1234.1" y="726.3" font-size="14.5" text-anchor="middle" font-weight="bold" fill="#303030" font-family='"Liberation Sans", sans-serif'  stroke="#303030" stroke-width="0.35">120</text>
<line x1="1267.55" y1="707" x2="1267.55" y2="703" stroke="#555555" stroke-width="1.5"/>
<text x="1267.55" y="726.3" font-size="14.5" text-anchor="middle" font-weight="bold" fill="#303030" font-family='"Liberation Sans", sans-serif'  stroke="#303030" stroke-width="0.35">130</text>
<path d="M966.5,678.03 L1100.3,672.51 L1133.75,669.44 L1167.2,660.5 L1200.65,629.79 L1234.1,604.7 L1267.55,490.1" fill="none" stroke="#1f77c4" stroke-width="2.7" stroke-linejoin="round"/>
<rect x="961.5" y="673.03" width="10" height="10" fill="#fff" stroke="#1f77c4" stroke-width="2.9"/>
<rect x="1095.3" y="667.51" width="10" height="10" fill="#fff" stroke="#1f77c4" stroke-width="2.9"/>
<rect x="1128.75" y="664.44" width="10" height="10" fill="#fff" stroke="#1f77c4" stroke-width="2.9"/>
<rect x="1162.2" y="655.5" width="10" height="10" fill="#fff" stroke="#1f77c4" stroke-width="2.9"/>
<rect x="1195.65" y="624.79" width="10" height="10" fill="#fff" stroke="#1f77c4" stroke-width="2.9"/>
<rect x="1229.1" y="599.7" width="10" height="10" fill="#fff" stroke="#1f77c4" stroke-width="2.9"/>
<rect x="1262.55" y="485.1" width="10" height="10" fill="#fff" stroke="#1f77c4" stroke-width="2.9"/>
<text x="913.8" y="439.5" font-size="15" text-anchor="start" font-weight="bold" fill="#222" font-family='"Liberation Sans", sans-serif'  stroke="#222" stroke-width="0.35">(e)</text>
<text transform="translate(921.5,584) rotate(-90)" x="0" y="0" font-size="16.8" text-anchor="middle" font-weight="bold" fill="#303030" stroke="#303030" stroke-width="0.35" font-family='"Liberation Sans", sans-serif'>R<tspan font-size="13" dy="7.5">cell</tspan><tspan dy="-7.5"> / </tspan><tspan font-weight="normal" fill="#666" stroke="none">&#937;</tspan></text>
<text x="138.3" y="742" font-size="16" text-anchor="start" font-weight="bold" fill="#303030" font-family='"Liberation Sans", sans-serif'  stroke="#303030" stroke-width="0.35">Temperature /</text>
<text x="251.11" y="737" font-size="9.6" text-anchor="start" font-weight="normal" fill="#777" font-family='"Liberation Sans", sans-serif' >&#176;</text>
<text x="253.61" y="742" font-size="16.32" text-anchor="start" font-weight="normal" fill="#777" font-family='"Liberation Sans", sans-serif' >C</text>
<text x="593.3" y="745" font-size="16.3" text-anchor="start" font-weight="bold" fill="#303030" font-family='"Liberation Sans", sans-serif'  stroke="#303030" stroke-width="0.35">Temperature /</text>
<text x="708.09" y="740" font-size="9.78" text-anchor="start" font-weight="normal" fill="#777" font-family='"Liberation Sans", sans-serif' >&#176;</text>
<text x="710.59" y="745" font-size="16.63" text-anchor="start" font-weight="normal" fill="#777" font-family='"Liberation Sans", sans-serif' >C</text>
<text x="1053.3" y="746.9" font-size="15.6" text-anchor="start" font-weight="bold" fill="#303030" font-family='"Liberation Sans", sans-serif'  stroke="#303030" stroke-width="0.35">Temperature /</text>
<text x="1163.46" y="741.9" font-size="9.36" text-anchor="start" font-weight="normal" fill="#777" font-family='"Liberation Sans", sans-serif' >&#176;</text>
<text x="1165.96" y="746.9" font-size="15.91" text-anchor="start" font-weight="normal" fill="#777" font-family='"Liberation Sans", sans-serif' >C</text>
<text x="940.5" y="370" font-size="17" text-anchor="start" font-weight="bold" fill="#303030" font-family='"Liberation Sans", sans-serif'  stroke="#303030" stroke-width="0.35">Temperature /</text>
<text x="1059.92" y="365" font-size="10.2" text-anchor="start" font-weight="normal" fill="#777" font-family='"Liberation Sans", sans-serif' >&#176;</text>
<text x="1062.42" y="370" font-size="17.34" text-anchor="start" font-weight="normal" fill="#777" font-family='"Liberation Sans", sans-serif' >C</text>
</svg></body></html>
